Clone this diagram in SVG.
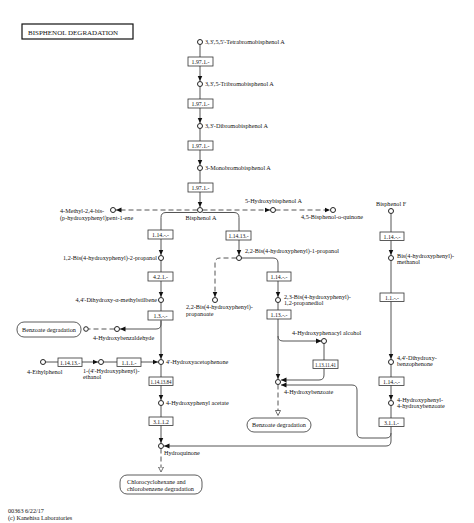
<svg xmlns="http://www.w3.org/2000/svg" width="474" height="523" viewBox="0 0 474 523">
<style>
text{font-family:"Liberation Serif","Times New Roman",serif;font-size:6.2px;fill:#111}
.ec{font-size:5.8px;text-anchor:middle}
.mid{text-anchor:middle}
.end{text-anchor:end}
.ln{fill:none;stroke:#555;stroke-width:1}
.dash{fill:none;stroke:#555;stroke-width:1;stroke-dasharray:5,3}
.box{fill:#fff;stroke:#333;stroke-width:0.8}
.map{fill:#fff;stroke:#333;stroke-width:0.8}
.nd{fill:#fff;stroke:#222;stroke-width:1}
</style>
<defs>
<marker id="a" markerUnits="userSpaceOnUse" markerWidth="6" markerHeight="6" refX="5.5" refY="3" orient="auto"><path d="M0,0.5 L5.5,3 L0,5.5 z" fill="#111"/></marker>
<marker id="o" markerUnits="userSpaceOnUse" markerWidth="7" markerHeight="7" refX="5.5" refY="3" orient="auto"><path d="M0.5,0.5 L5.5,3 L0.5,5.5 z" fill="#fff" stroke="#333" stroke-width="0.7"/></marker>
</defs>
<rect width="474" height="523" fill="#fff"/>
<g id="title"><rect x="22" y="24" width="111" height="15" fill="#fff" stroke="#111" stroke-width="1.2"/><text x="28" y="34.5" style="font-size:7px">BISPHENOL DEGRADATION</text></g>

<g id="connectors">
<path class="ln" d="M200,44.5 V81" marker-end="url(#a)"/>
<path class="ln" d="M200,86.5 V123" marker-end="url(#a)"/>
<path class="ln" d="M200,128.5 V165" marker-end="url(#a)"/>
<path class="ln" d="M200,170.5 V207" marker-end="url(#a)"/>
<path class="dash" d="M197.5,210 H116" marker-end="url(#a)"/>
<path class="dash" d="M202.5,210 H270" marker-end="url(#a)"/>
<path class="dash" d="M275.5,210 H330" marker-end="url(#a)"/>
<path class="ln" d="M197.5,212.5 H166 Q161,212.5 161,217.5 V255" marker-end="url(#a)"/>
<path class="ln" d="M202.5,212.5 H234 Q239,212.5 239,217.5 V255" marker-end="url(#a)"/>
<path class="ln" d="M161,260.5 V297" marker-end="url(#a)"/>
<path class="ln" d="M161,302.5 V359" marker-end="url(#a)"/>
<path class="ln" d="M161,321 V324 Q161,329 156,329 H120" marker-end="url(#a)"/>
<path class="dash" d="M114.5,329 H88.5"/>
<path class="ln" d="M45.5,362 H98" marker-end="url(#a)"/>
<path class="ln" d="M103.5,362 H158" marker-end="url(#a)"/>
<path class="ln" d="M161,364.5 V400" marker-end="url(#a)"/>
<path class="ln" d="M161,405.5 V443" marker-end="url(#a)"/>
<path class="dash" d="M161,448.5 V472" marker-end="url(#o)"/>
<path class="dash" d="M236.5,258 H220 Q215,258 215,263 V297" marker-end="url(#a)"/>
<path class="ln" d="M241.5,258 H273 Q278,258 278,263 V297" marker-end="url(#a)"/>
<path class="ln" d="M278,302.5 V379" marker-end="url(#a)"/>
<path class="ln" d="M278,336 Q278,341 283,341 H321.5" marker-end="url(#a)"/>
<path class="ln" d="M324,343.5 V375 Q324,380 319,380 H281" marker-end="url(#a)"/>
<path class="ln" d="M391,426 V433 Q391,438 386,438 H362 Q357,438 357,433 V390 Q357,385 352,385 H281" marker-end="url(#a)"/>
<path class="ln" d="M391,433 V441 Q391,446 386,446 H164" marker-end="url(#a)"/>
<path class="dash" d="M278,384.5 V415.5" marker-end="url(#o)"/>
<path class="ln" d="M391,213.5 V255" marker-end="url(#a)"/>
<path class="ln" d="M391,260.5 V359" marker-end="url(#a)"/>
<path class="ln" d="M391,364.5 V400" marker-end="url(#a)"/>
<path class="ln" d="M391,405.5 V426"/>
</g>

<g id="ec_1.97.1-a"><rect class="box" x="188" y="57" width="25" height="9"/><text class="ec" x="200.5" y="63.8">1.97.1.-</text></g>
<g id="ec_1.97.1-b"><rect class="box" x="188" y="99" width="25" height="9"/><text class="ec" x="200.5" y="105.8">1.97.1.-</text></g>
<g id="ec_1.97.1-c"><rect class="box" x="188" y="141" width="25" height="9"/><text class="ec" x="200.5" y="147.8">1.97.1.-</text></g>
<g id="ec_1.97.1-d"><rect class="box" x="188" y="183" width="25" height="9"/><text class="ec" x="200.5" y="189.8">1.97.1.-</text></g>
<g id="ec_1.14-a"><rect class="box" x="148" y="230" width="25" height="9"/><text class="ec" x="160.5" y="236.8">1.14.-.-</text></g>
<g id="ec_4.2.1"><rect class="box" x="148" y="272" width="25" height="9"/><text class="ec" x="160.5" y="278.8">4.2.1.-</text></g>
<g id="ec_1.3"><rect class="box" x="148" y="311" width="25" height="9"/><text class="ec" x="160.5" y="317.8">1.3.-.-</text></g>
<g id="ec_1.14.13-a"><rect class="box" x="226" y="231" width="25" height="9"/><text class="ec" x="238.5" y="237.8" textLength="20" lengthAdjust="spacingAndGlyphs">1.14.13.-</text></g>
<g id="ec_1.14-b"><rect class="box" x="267" y="272" width="24" height="9"/><text class="ec" x="279" y="278.8">1.14.-.-</text></g>
<g id="ec_1.13"><rect class="box" x="267" y="310" width="24" height="9"/><text class="ec" x="279" y="316.8">1.13.-.-</text></g>
<g id="ec_1.13.11.41"><rect class="box" x="313" y="360" width="25" height="8.5"/><text class="ec" x="325.5" y="366.5" textLength="21" lengthAdjust="spacingAndGlyphs">1.13.11.41</text></g>
<g id="ec_1.14.13-b"><rect class="box" x="58" y="358" width="24" height="8.5"/><text class="ec" x="70" y="364.5" textLength="20" lengthAdjust="spacingAndGlyphs">1.14.13.-</text></g>
<g id="ec_1.1.1"><rect class="box" x="117" y="358" width="24" height="8.5"/><text class="ec" x="129" y="364.5">1.1.1.-</text></g>
<g id="ec_1.14.13.84"><rect class="box" x="149" y="377" width="24" height="8.5"/><text class="ec" x="161" y="383.5" textLength="21" lengthAdjust="spacingAndGlyphs">1.14.13.84</text></g>
<g id="ec_3.1.1.2"><rect class="box" x="149" y="417" width="24" height="8.5"/><text class="ec" x="161" y="423.5">3.1.1.2</text></g>
<g id="ec_1.14-c"><rect class="box" x="380" y="232" width="24" height="8.5"/><text class="ec" x="392" y="238.5">1.14.-.-</text></g>
<g id="ec_1.1"><rect class="box" x="380" y="293" width="24" height="8.5"/><text class="ec" x="392" y="299.5">1.1.-.-</text></g>
<g id="ec_1.14-d"><rect class="box" x="379" y="377" width="25" height="8.5"/><text class="ec" x="391.5" y="383.5">1.14.-.-</text></g>
<g id="ec_3.1.1"><rect class="box" x="379" y="418" width="25" height="8.5"/><text class="ec" x="391.5" y="424.5">3.1.1.-</text></g>

<g id="map_benzoate1"><rect class="map" x="17" y="322" width="64" height="15" rx="7"/><text class="mid" x="49" y="331.5">Benzoate degradation</text><circle class="nd" cx="86" cy="329" r="2.3"/></g>
<g id="map_benzoate2"><rect class="map" x="247" y="418" width="64" height="14" rx="7"/><text class="mid" x="279" y="427">Benzoate degradation</text></g>
<g id="map_chloro"><rect class="map" x="120" y="475" width="82" height="19" rx="7"/><text x="127" y="483.5">Chlorocyclohexane and</text><text x="127" y="490.5">chlorobenzene degradation</text></g>

<g id="c_tetra"><circle class="nd" cx="200" cy="42" r="2.5"/><text x="205" y="44">3,3',5,5'-Tetrabromobisphenol A</text></g>
<g id="c_tri"><circle class="nd" cx="200" cy="84" r="2.5"/><text x="205" y="86">3,3',5-Tribromobisphenol A</text></g>
<g id="c_di"><circle class="nd" cx="200" cy="126" r="2.5"/><text x="205" y="128">3,3'-Dibromobisphenol A</text></g>
<g id="c_mono"><circle class="nd" cx="200" cy="168" r="2.5"/><text x="205" y="170">3-Monobromobisphenol A</text></g>
<g id="c_bpa"><circle class="nd" cx="200" cy="210" r="2.5"/><text class="mid" x="201" y="220">Bisphenol A</text></g>
<g id="c_methylpentene"><circle class="nd" cx="113" cy="210" r="2.5"/><text x="60" y="213">4-Methyl-2,4-bis-</text><text x="60" y="219.5">(p-hydroxyphenyl)pent-1-ene</text></g>
<g id="c_5ohbpa"><circle class="nd" cx="273" cy="210" r="2.5"/><text x="245" y="203">5-Hydroxybisphenol A</text></g>
<g id="c_quinone"><circle class="nd" cx="333" cy="210" r="2.5"/><text x="301" y="219">4,5-Bisphenol-o-quinone</text></g>
<g id="c_bpf"><circle class="nd" cx="391" cy="211" r="2.5"/><text x="376" y="206">Bisphenol F</text></g>
<g id="c_2propanol"><circle class="nd" cx="161" cy="258" r="2.5"/><text class="end" x="157" y="260">1,2-Bis(4-hydroxyphenyl)-2-propanol</text></g>
<g id="c_stilbene"><circle class="nd" cx="161" cy="300" r="2.5"/><text class="end" x="157" y="302">4,4'-Dihydroxy-α-methylstilbene</text></g>
<g id="c_benzaldehyde"><circle class="nd" cx="117" cy="329" r="2.5"/><text x="93" y="340">4-Hydroxybenzaldehyde</text></g>
<g id="c_1propanol"><circle class="nd" cx="239" cy="258" r="2.5"/><text x="245" y="253">2,2-Bis(4-hydroxyphenyl)-1-propanol</text></g>
<g id="c_propanoate"><circle class="nd" cx="215" cy="300" r="2.5"/><text x="186" y="309">2,2-Bis(4-hydroxyphenyl)-</text><text x="186" y="315.5">propanoate</text></g>
<g id="c_propanediol"><circle class="nd" cx="278" cy="300" r="2.5"/><text x="284" y="299">2,3-Bis(4-hydroxyphenyl)-</text><text x="284" y="305">1,2-propanediol</text></g>
<g id="c_phenacyl"><circle class="nd" cx="324" cy="341" r="2.5"/><text x="292" y="335">4-Hydroxyphenacyl alcohol</text></g>
<g id="c_hbenzoate"><circle class="nd" cx="278" cy="382" r="2.5"/><text x="284" y="394">4-Hydroxybenzoate</text></g>
<g id="c_methanol"><circle class="nd" cx="391" cy="258" r="2.5"/><text x="397" y="258">Bis(4-hydroxyphenyl)-</text><text x="397" y="264">methanol</text></g>
<g id="c_benzophenone"><circle class="nd" cx="391" cy="362" r="2.5"/><text x="397" y="360">4,4'-Dihydroxy-</text><text x="397" y="366">benzophenone</text></g>
<g id="c_hphbenzoate"><circle class="nd" cx="391" cy="403" r="2.5"/><text x="397" y="402">4-Hydroxyphenyl-</text><text x="397" y="408">4-hydroxybenzoate</text></g>
<g id="c_ethylphenol"><circle class="nd" cx="43" cy="362" r="2.5"/><text x="27" y="374">4-Ethylphenol</text></g>
<g id="c_ethanol"><circle class="nd" cx="101" cy="362" r="2.5"/><text x="83" y="373">1-(4'-Hydroxyphenyl)-</text><text x="83" y="379">ethanol</text></g>
<g id="c_acetophenone"><circle class="nd" cx="161" cy="362" r="2.5"/><text x="166" y="364">4'-Hydroxyacetophenone</text></g>
<g id="c_acetate"><circle class="nd" cx="161" cy="403" r="2.5"/><text x="166" y="405">4-Hydroxyphenyl acetate</text></g>
<g id="c_hydroquinone"><circle class="nd" cx="161" cy="446" r="2.5"/><text x="164" y="455">Hydroquinone</text></g>

<g id="footer"><text x="8" y="513">00363 6/22/17</text><text x="8" y="520">(c) Kanehisa Laboratories</text></g>
</svg>
